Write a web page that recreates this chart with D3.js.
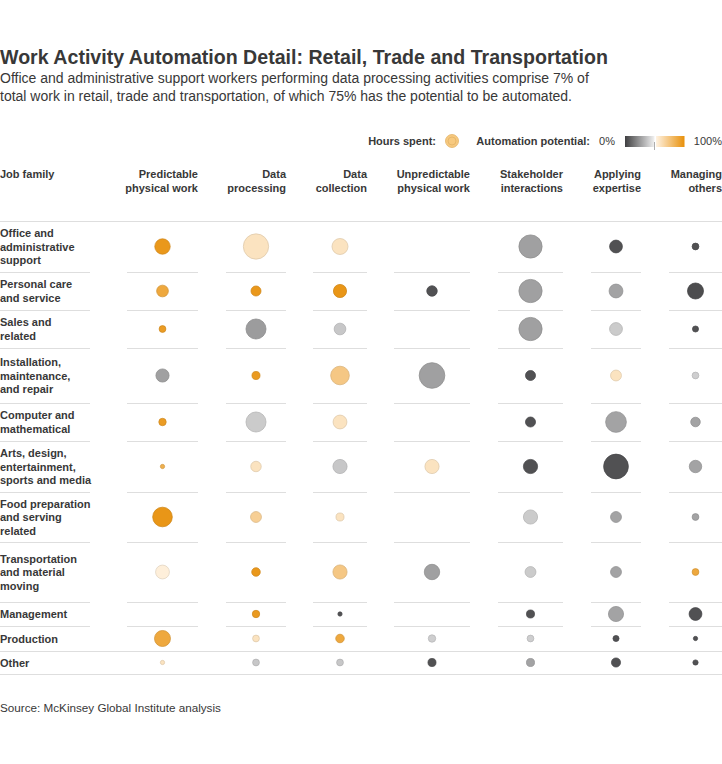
<!DOCTYPE html>
<html>
<head>
<meta charset="utf-8">
<script src="https://cdn.jsdelivr.net/npm/d3@7"></script>
<style>
  html, body { margin: 0; padding: 0; background: #fff; }
  svg { display: block; }
  text { font-family: "Liberation Sans", Arial, Helvetica, sans-serif; fill: #383838; }
</style>
</head>
<body>
<div id="chart"></div>
<script>
// ---------- DATA ----------
const activities = [
  "Predictable physical work", "Data processing", "Data collection",
  "Unpredictable physical work", "Stakeholder interactions",
  "Applying expertise", "Managing others"
];
const activityLines = [
  ["Predictable", "physical work"], ["Data", "processing"], ["Data", "collection"],
  ["Unpredictable", "physical work"], ["Stakeholder", "interactions"],
  ["Applying", "expertise"], ["Managing", "others"]
];
const jobFamilies = [
  "Office and administrative support", "Personal care and service", "Sales and related",
  "Installation, maintenance, and repair", "Computer and mathematical",
  "Arts, design, entertainment, sports and media", "Food preparation and serving related",
  "Transportation and material moving", "Management", "Production", "Other"
];
const jobFamilyLines = [
  ["Office and", "administrative", "support"],
  ["Personal care", "and service"],
  ["Sales and", "related"],
  ["Installation,", "maintenance,", "and repair"],
  ["Computer and", "mathematical"],
  ["Arts, design,", "entertainment,", "sports and media"],
  ["Food preparation", "and serving", "related"],
  ["Transportation", "and material", "moving"],
  ["Management"],
  ["Production"],
  ["Other"]
];
// hours spent (share of total hours, %), one row per job family, columns follow activities
const hoursSpent = [
  [2.6, 7.0, 2.8, null, 5.9, 1.8, 0.5],
  [1.5, 1.1, 1.9, 1.2, 5.9, 2.1, 2.8],
  [0.5, 4.4, 1.5, null, 5.9, 1.8, 0.4],
  [1.9, 0.7, 3.8, 7.2, 1.1, 1.3, 0.5],
  [0.6, 4.4, 2.1, null, 1.1, 4.7, 1.0],
  [0.2, 1.2, 2.2, 2.2, 2.2, 6.7, 1.7],
  [4.2, 1.3, 0.7, null, 2.2, 1.3, 0.5],
  [2.1, 0.8, 2.2, 2.6, 1.3, 1.3, 0.5],
  [null, 0.6, 0.2, null, 0.7, 2.5, 1.8],
  [2.8, 0.5, 0.8, 0.6, 0.5, 0.4, 0.2],
  [0.2, 0.5, 0.5, 0.7, 0.7, 0.9, 0.3]
];
// automation potential (%)
const automationPotential = [
  [96, 58, 58, null, 27, 5, 5],
  [88, 96, 97, 5, 27, 28, 4],
  [94, 26, 38, null, 27, 39, 5],
  [27, 95, 72, 27, 5, 58, 40],
  [94, 39, 58, null, 5, 28, 28],
  [84, 58, 38, 58, 5, 5, 28],
  [97, 68, 58, null, 39, 28, 28],
  [52, 96, 72, 27, 39, 28, 88],
  [null, 95, 5, null, 5, 28, 5],
  [88, 58, 88, 40, 40, 5, 5],
  [58, 38, 38, 5, 28, 5, 5]
];
const titleText = "Work Activity Automation Detail: Retail, Trade and Transportation";
const subtitleLines = [
  "Office and administrative support workers performing data processing activities comprise 7% of",
  "total work in retail, trade and transportation, of which 75% has the potential to be automated."
];
const sourceText = "Source: McKinsey Global Institute analysis";

// ---------- LAYOUT ----------
const W = 722, H = 764;
const colRight = [198, 286, 367, 470, 563, 641, 722];
const colWidth = [71, 60, 54, 76, 65, 50, 53];
const labelColWidth = 90;
const tableTop = 221;
const rowHeights = [51, 38, 38, 55, 38, 51, 50, 60, 24, 25, 23];
const lineH = 13.5;

const svg = d3.select("#chart").append("svg").attr("width", W).attr("height", H);

// scales
const xCenter = d3.scaleOrdinal().domain(activities)
  .range(activities.map((a, i) => colRight[i] - colWidth[i] / 2));
const rowTops = rowHeights.reduce((acc, h, i) => { acc.push((i ? acc[i - 1] : tableTop) + (i ? rowHeights[i - 1] : 0)); return acc; }, []);
const yCenter = d3.scaleOrdinal().domain(jobFamilies)
  .range(jobFamilies.map((j, i) => rowTops[i] + rowHeights[i] / 2));
const rScale = d3.scaleSqrt().domain([0, 7]).range([0, 12.65]);
const grayScale = d3.scaleLinear().domain([0, 50]).range(["#3f3f41", "#f2f2f2"]);
const orangeScale = d3.scaleLinear().domain([50, 100]).range(["#fff3e3", "#e8900a"]);
const colorOf = v => v < 50 ? grayScale(v) : orangeScale(v);

// title
svg.append("text").attr("x", 0).attr("y", 64)
  .style("font-size", "19.6px").style("font-weight", "bold").text(titleText);
svg.selectAll(".sub").data(subtitleLines).enter().append("text")
  .attr("x", 0).attr("y", (d, i) => 83 + i * 18)
  .style("font-size", "14px").text(d => d);

// legend
const lg = svg.append("g");
const ly = 145;
lg.append("text").attr("x", 436).attr("y", ly).attr("text-anchor", "end")
  .style("font-size", "11px").style("font-weight", "bold").text("Hours spent:");
lg.append("circle").attr("cx", 452).attr("cy", 141).attr("r", 6.5)
  .attr("fill", "#f7c97f").attr("stroke", "#e2b266").attr("stroke-width", 0.8);
lg.append("circle").attr("cx", 452).attr("cy", 141).attr("r", 4)
  .attr("fill", "none").attr("stroke", "#e2b266").attr("stroke-width", 0.8);
lg.append("text").attr("x", 590).attr("y", ly).attr("text-anchor", "end")
  .style("font-size", "11px").style("font-weight", "bold").text("Automation potential:");
lg.append("text").attr("x", 615).attr("y", ly).attr("text-anchor", "end")
  .style("font-size", "11px").text("0%");
lg.append("text").attr("x", 722).attr("y", ly).attr("text-anchor", "end")
  .style("font-size", "11px").text("100%");
const defs = svg.append("defs");
const gGray = defs.append("linearGradient").attr("id", "gGray");
d3.range(0, 51, 5).forEach(v => gGray.append("stop").attr("offset", (v / 50 * 100) + "%").attr("stop-color", grayScale(v)));
const gOr = defs.append("linearGradient").attr("id", "gOr");
d3.range(50, 101, 5).forEach(v => gOr.append("stop").attr("offset", ((v - 50) / 50 * 100) + "%").attr("stop-color", orangeScale(v)));
lg.append("rect").attr("x", 625).attr("y", 136).attr("width", 29.5).attr("height", 11).attr("fill", "url(#gGray)");
lg.append("rect").attr("x", 656).attr("y", 136).attr("width", 28.5).attr("height", 11).attr("fill", "url(#gOr)");
lg.append("line").attr("x1", 654.5).attr("x2", 654.5).attr("y1", 142).attr("y2", 150)
  .attr("stroke", "#999").attr("stroke-width", 0.8);

// header
svg.append("text").attr("x", 0).attr("y", 178)
  .style("font-size", "11px").style("font-weight", "bold").text("Job family");
activities.forEach((a, i) => {
  const t = svg.append("text").attr("text-anchor", "end")
    .style("font-size", "11px").style("font-weight", "bold");
  activityLines[i].forEach((ln, k) => {
    t.append("tspan").attr("x", colRight[i]).attr("y", 178 + k * lineH).text(ln);
  });
});

// grid lines
const lineColor = "#dedede";
svg.append("line").attr("x1", 0).attr("x2", W).attr("y1", tableTop + 0.5).attr("y2", tableTop + 0.5)
  .attr("stroke", lineColor).attr("stroke-width", 1.2);
jobFamilies.forEach((j, i) => {
  const yb = rowTops[i] + rowHeights[i] + 0.5;
  const full = (i >= jobFamilies.length - 2);
  if (full) {
    svg.append("line").attr("x1", 0).attr("x2", W).attr("y1", yb).attr("y2", yb)
      .attr("stroke", lineColor).attr("stroke-width", 1.2);
  } else {
    const segs = [[0, labelColWidth]].concat(colRight.map((r, k) => [r - colWidth[k], r]));
    segs.forEach(s => svg.append("line").attr("x1", s[0]).attr("x2", s[1]).attr("y1", yb).attr("y2", yb)
      .attr("stroke", lineColor).attr("stroke-width", 1.2));
  }
});

// row labels
jobFamilies.forEach((j, i) => {
  const lines = jobFamilyLines[i];
  const cy = yCenter(j);
  const t = svg.append("text").style("font-size", "11px").style("font-weight", "bold");
  lines.forEach((ln, k) => {
    t.append("tspan").attr("x", 0).attr("y", cy + 4 + (k - (lines.length - 1) / 2) * lineH).text(ln);
  });
});

// bubbles
const cells = [];
jobFamilies.forEach((j, i) => activities.forEach((a, k) => {
  if (hoursSpent[i][k] != null) cells.push({ job: j, act: a, h: hoursSpent[i][k], p: automationPotential[i][k] });
}));
svg.append("g").selectAll("circle").data(cells).enter().append("circle")
  .attr("cx", d => xCenter(d.act))
  .attr("cy", d => yCenter(d.job))
  .attr("r", d => rScale(d.h))
  .attr("fill", d => colorOf(d.p))
  .attr("stroke", d => d3.color(colorOf(d.p)).darker(0.35))
  .attr("stroke-width", 0.75);

// source
svg.append("text").attr("x", 0).attr("y", 712).style("font-size", "11.7px").text(sourceText);
</script>
</body>
</html>
